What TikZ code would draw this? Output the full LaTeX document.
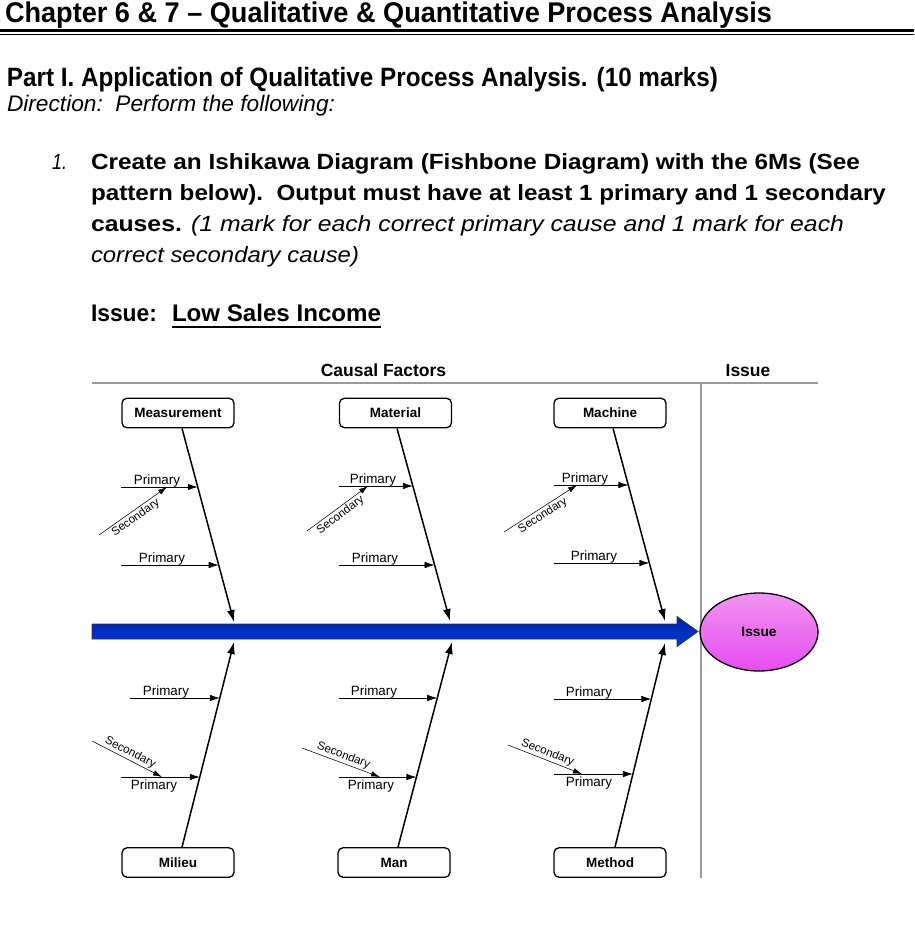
\documentclass[tikz,border=0pt]{standalone}
\usepackage{graphicx}
\usepackage{fontspec}
\setmainfont{Liberation Sans}
\usetikzlibrary{arrows.meta,shapes.geometric}
\newsavebox\fitbox
\newdimen\fitlen
\newcommand\fitw[2]{\sbox\fitbox{#2}\fitlen=\wd\fitbox\pgfmathsetmacro\fitr{#1/\fitlen}\scalebox{\fitr}[1]{\usebox\fitbox}}
\newcommand\fs[1]{\fontsize{#1}{#1}\selectfont}
\definecolor{gridgray}{HTML}{9A9A9A}
\definecolor{spinetop}{HTML}{0024A8}
\definecolor{spinebot}{HTML}{0038D8}
\definecolor{issuetop}{HTML}{F294F2}
\definecolor{issuebot}{HTML}{E64CF0}
\tikzset{
  txt/.style={anchor=base west, inner sep=0pt, outer sep=0pt},
  causebox/.style={draw, rounded corners=5pt, line width=1.3pt, minimum width=112pt, minimum height=29.5pt, inner sep=0pt, font=\fs{13.5}\bfseries, fill=white},
  bone/.style={line width=1.5pt, -{Latex[length=12pt,width=8pt]}},
  prim/.style={draw=black, line width=0.7pt, -{Latex[length=10pt,width=6.5pt]}},
  sec/.style={draw=black, line width=0.55pt, -{Latex[length=9pt,width=5.5pt]}},
  plabel/.style={anchor=base, inner sep=0pt, font=\fs{13.4}},
  slabel/.style={inner sep=1.5pt, font=\fs{11.6}, sloped},
  headlabel/.style={anchor=base, inner sep=0pt, font=\fs{17.5}\bfseries},
  grid/.style={draw=gridgray, line width=1.5pt}
}
\begin{document}
\begin{tikzpicture}[x=1pt,y=-1pt]
\useasboundingbox (0,0) rectangle (914,936);
\fill[white] (0,0) rectangle (914,936);

% ---------- header text ----------
\node[txt] (title) at (5,22.5) {\fs{28.5}\bfseries\fitw{767}{Chapter 6 \& 7 – Qualitative \& Quantitative Process Analysis}};
\draw[line width=2.6pt] (0,30.3) -- (914,30.3);
\draw[line width=1.3pt] (0,34.6) -- (914,34.6);

\node[txt] (part) at (7,87) {\fs{26.5}\bfseries\fitw{711}{Part I. Application of Qualitative Process Analysis. (10 marks)}};
\node[txt] (dir) at (7,111.5) {\fs{22.5}\itshape\fitw{328}{Direction:\ \ Perform the following:}};

\node[txt] (num) at (52,170) {\fs{22}\itshape\fitw{15}{1.}};
\node[txt] (l1) at (91,170) {\fs{22}\bfseries\fitw{769}{Create an Ishikawa Diagram (Fishbone Diagram) with the 6Ms (See}};
\node[txt] (l2) at (91,200.5) {\fs{22}\bfseries\fitw{795}{pattern below).\ \ Output must have at least 1 primary and 1 secondary}};
\node[txt] (l3) at (91,231) {\fs{22}\fitw{753}{\bfseries causes. \mdseries\itshape(1 mark for each correct primary cause and 1 mark for each}};
\node[txt] (l4) at (91,262) {\fs{22}\itshape\fitw{268}{correct secondary cause)}};

\node[txt] (issuelbl) at (91,321.5) {\fs{24}\bfseries\fitw{66}{Issue:}};
\node[txt] (low) at (172,321.5) {\fs{24}\bfseries\fitw{209}{Low Sales Income}};
\draw[line width=2pt] ([yshift=-5pt]low.base west) -- ([yshift=-5pt]low.base east);

% ---------- diagram frame ----------
\node[headlabel] (causal) at (383.5,376) {Causal Factors};
\node[headlabel] (issuehead) at (748,376) {Issue};
\draw[grid] (92,383) -- (818,383);
\draw[grid] (701,383) -- (701,878);

% ---------- spine ----------
\shade[top color=spinetop, bottom color=spinebot, draw=black!80, line width=0.7pt]
  (92,624) -- (677,624) -- (677,616.5) -- (698,631.5) -- (677,646.5) -- (677,639) -- (92,639) -- cycle;
\node[ellipse, draw, line width=1.3pt, minimum width=118pt, minimum height=78pt, inner sep=0pt,
      top color=issuetop, bottom color=issuebot, font=\fs{13.7}\bfseries] (issue) at (759,632) {Issue};

% ---------- category boxes ----------
\node[causebox] (meas) at (178,413) {Measurement};
\node[causebox] (mat)  at (395.5,413) {Material};
\node[causebox] (mach) at (610,413) {Machine};
\node[causebox] (mil)  at (178,862.5) {Milieu};
\node[causebox] (man)  at (394,862.5) {Man};
\node[causebox] (meth) at (610,862.5) {Method};

% ---------- bone tips ----------
\coordinate (measT) at (234,622);
\coordinate (matT)  at (450,621);
\coordinate (machT) at (665,621);
\coordinate (milT)  at (234,642);
\coordinate (manT)  at (452,642);
\coordinate (methT) at (665,643);

\draw[bone] ([xshift=4pt]meas.south) -- (measT);
\draw[bone] ([xshift=1.5pt]mat.south) -- (matT);
\draw[bone] ([xshift=3pt]mach.south) -- (machT);
\draw[bone] ([xshift=4pt]mil.north) -- (milT);
\draw[bone] ([xshift=4pt]man.north) -- (manT);
\draw[bone] ([xshift=5pt]meth.north) -- (methT);

% ---------- primary cause coordinates ----------
\coordinate (measA1) at (121,487);   \coordinate (measB1) at (197.8,487);
\coordinate (measA2) at (121,565);   \coordinate (measB2) at (218.7,565);
\coordinate (matA1)  at (339,486);   \coordinate (matB1)  at (412.9,486);
\coordinate (matA2)  at (339,565);   \coordinate (matB2)  at (434.6,565);
\coordinate (machA1) at (554,485);   \coordinate (machB1) at (628.4,485);
\coordinate (machA2) at (554,563);   \coordinate (machB2) at (649.4,563);
\coordinate (milA1)  at (130,698);   \coordinate (milB1)  at (219.8,698);
\coordinate (milA2)  at (121,777);   \coordinate (milB2)  at (199.8,777);
\coordinate (manA1)  at (339,698);   \coordinate (manB1)  at (437.2,698);
\coordinate (manA2)  at (339,777);   \coordinate (manB2)  at (416.4,777);
\coordinate (methA1) at (554,699);   \coordinate (methB1) at (651.3,699);
\coordinate (methA2) at (554,774);   \coordinate (methB2) at (632.9,774);

\draw[prim] (measA1) -- (measB1);  \draw[prim] (measA2) -- (measB2);
\draw[prim] (matA1) -- (matB1);    \draw[prim] (matA2) -- (matB2);
\draw[prim] (machA1) -- (machB1);  \draw[prim] (machA2) -- (machB2);
\draw[prim] (milA1) -- (milB1);    \draw[prim] (milA2) -- (milB2);
\draw[prim] (manA1) -- (manB1);    \draw[prim] (manA2) -- (manB2);
\draw[prim] (methA1) -- (methB1);  \draw[prim] (methA2) -- (methB2);

% ---------- primary labels ----------
\node[plabel] (measP1) at (157,484) {Primary};
\node[plabel] (measP2) at (162,562) {Primary};
\node[plabel] (matP1)  at (373,483) {Primary};
\node[plabel] (matP2)  at (375,562) {Primary};
\node[plabel] (machP1) at (585,482) {Primary};
\node[plabel] (machP2) at (594,560) {Primary};
\node[plabel] (milP1)  at (166,695) {Primary};
\node[plabel] (milP2)  at (154,789.5) {Primary};
\node[plabel] (manP1)  at (374,695) {Primary};
\node[plabel] (manP2)  at (371,789.5) {Primary};
\node[plabel] (methP1) at (589,696) {Primary};
\node[plabel] (methP2) at (589,786.5) {Primary};

% ---------- secondary causes ----------
\coordinate (measS) at (99,535);  \coordinate (measS2) at (167,487);
\coordinate (matS)  at (307,531); \coordinate (matS2)  at (368,486);
\coordinate (machS) at (504,532); \coordinate (machS2) at (577,485);
\coordinate (milS)  at (92,741);  \coordinate (milS2)  at (162,777);
\coordinate (manS)  at (302,748); \coordinate (manS2)  at (380,777);
\coordinate (methS) at (508,745); \coordinate (methS2) at (582,774);

\draw[sec] (measS) -- node[slabel, below, pos=0.48] (measSec) {Secondary} (measS2);
\draw[sec] (matS) -- node[slabel, below, pos=0.48] (matSec) {Secondary} (matS2);
\draw[sec] (machS) -- node[slabel, below, pos=0.48] (machSec) {Secondary} (machS2);
\draw[sec] (milS) -- node[slabel, above] (milSec) {Secondary} (milS2);
\draw[sec] (manS) -- node[slabel, above] (manSec) {Secondary} (manS2);
\draw[sec] (methS) -- node[slabel, above] (methSec) {Secondary} (methS2);
\end{tikzpicture}
\end{document}
